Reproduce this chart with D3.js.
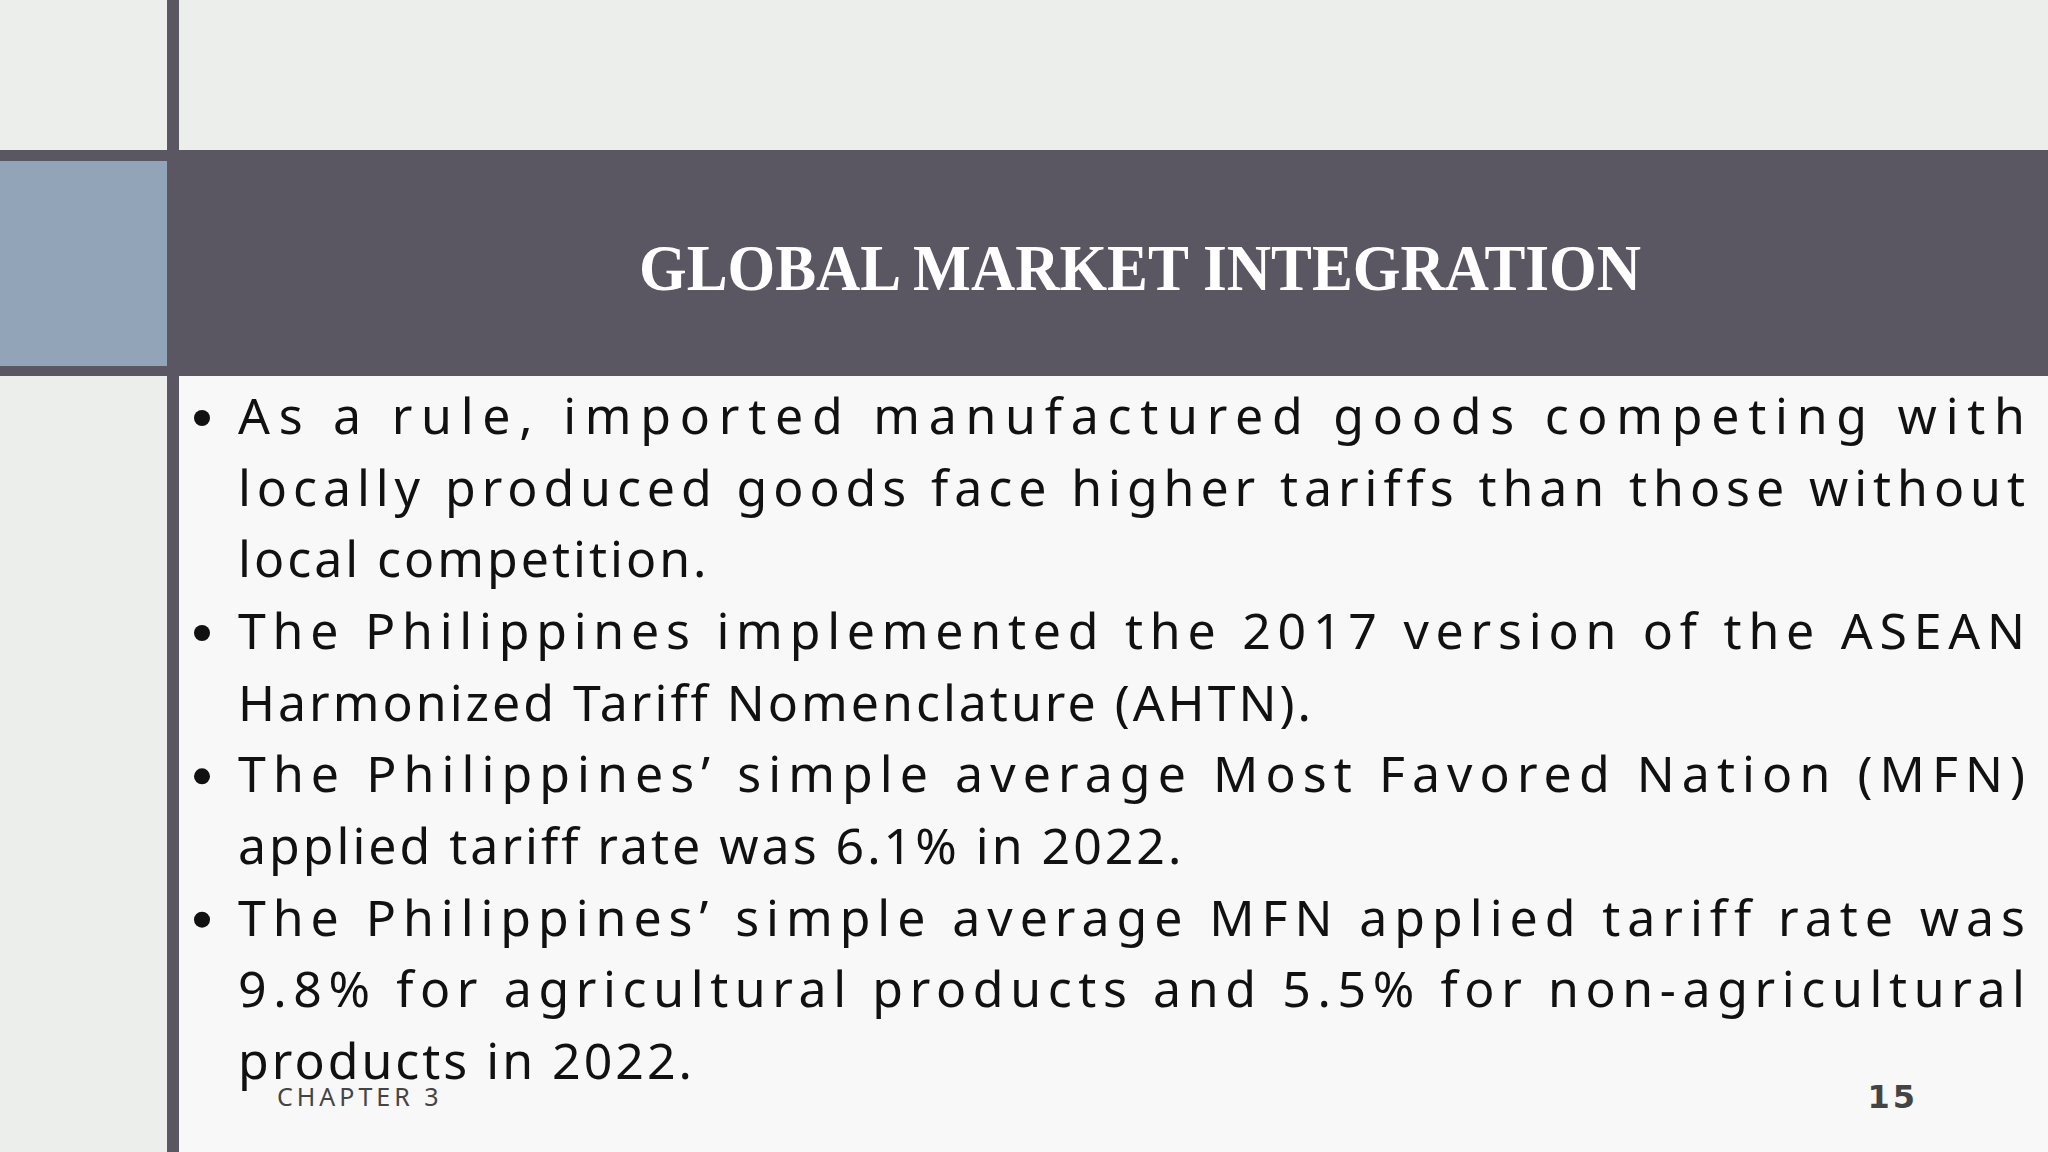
<!DOCTYPE html>
<html><head><meta charset="utf-8">
<script src="https://cdn.jsdelivr.net/npm/d3@7/dist/d3.min.js"></script>
<style>body{margin:0;overflow:hidden}</style></head>
<body><svg id="s" width="2048" height="1152"></svg>
<script>
const title = "GLOBAL MARKET INTEGRATION";
const lines = [
 {t:"As a rule, imported manufactured goods competing with", bullet:true, just:true},
 {t:"locally produced goods face higher tariffs than those without", bullet:false, just:true},
 {t:"local competition.", bullet:false, just:false},
 {t:"The Philippines implemented the 2017 version of the ASEAN", bullet:true, just:true},
 {t:"Harmonized Tariff Nomenclature (AHTN).", bullet:false, just:false},
 {t:"The Philippines\u2019 simple average Most Favored Nation (MFN)", bullet:true, just:true},
 {t:"applied tariff rate was 6.1% in 2022.", bullet:false, just:false},
 {t:"The Philippines\u2019 simple average MFN applied tariff rate was", bullet:true, just:true},
 {t:"9.8% for agricultural products and 5.5% for non-agricultural", bullet:false, just:true},
 {t:"products in 2022.", bullet:false, just:false}
];
const footer = "CHAPTER 3", pageNum = "15";
const svg = d3.select("#s");
const R=(x,y,w,h,c)=>svg.append("rect").attr("x",x).attr("y",y).attr("width",w).attr("height",h).attr("fill",c);
R(0,0,2048,1152,"#f8f8f8");
R(0,0,2048,150,"#eceeeb");
R(0,376,167,776,"#eceeeb");
R(0,150,2048,226,"#5a5662");
R(0,161,167,205,"#91a4b8");
R(167,0,12,1152,"#5a5662");
svg.append("text").attr("x",1140).attr("y",290).attr("text-anchor","middle")
 .attr("font-family","Liberation Serif").attr("font-weight","bold").attr("font-size",66)
 .attr("fill","#fff").attr("textLength",1002).attr("lengthAdjust","spacingAndGlyphs").text(title);
const y = d3.scaleLinear().domain([0,9]).range([434,1079]);
lines.forEach((l,i)=>{
  const t = svg.append("text").attr("x",238).attr("y",y(i)).attr("font-family","Noto Sans")
   .attr("font-size",50).attr("fill","#111").attr("letter-spacing",3).text(l.t);
  if(l.just) t.attr("textLength",1790).attr("lengthAdjust","spacing");
  if(l.bullet) svg.append("circle").attr("cx",202).attr("cy",y(i)-16).attr("r",8).attr("fill","#111");
});
svg.append("text").attr("x",277).attr("y",1106).attr("font-family","Noto Sans").attr("font-size",25)
 .attr("letter-spacing",4).attr("fill","#444").text(footer);
svg.append("text").attr("x",1918).attr("y",1108).attr("text-anchor","end").attr("font-family","DejaVu Sans")
 .attr("font-weight","bold").attr("font-size",32).attr("letter-spacing",3).attr("fill","#444").text(pageNum);
</script></body></html>
